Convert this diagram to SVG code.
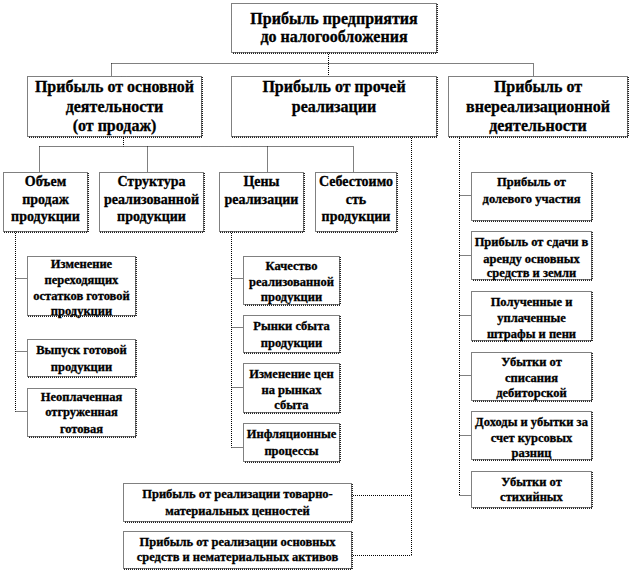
<svg xmlns="http://www.w3.org/2000/svg" width="630" height="570" viewBox="0 0 630 570">
<style>
.bx{fill:#fff;stroke:#000;stroke-width:1;stroke-dasharray:1 1}
.sh{fill:none;stroke:#222;stroke-width:2;stroke-dasharray:1 1}
.c{fill:none;stroke:#000;stroke-width:1;stroke-dasharray:1 1}
</style>
<rect width="630" height="570" fill="#fff"/>
<g id="connectors">
<path class="c" d="M328.5 52V76M111.5 63.5H533.5M111.5 63.5V76M533.5 63.5V76"/>
<path class="c" d="M123.5 136V146.5M39.5 146.5H353.5M39.5 146.5V172M147.5 146.5V172M267.5 146.5V172M353.5 146.5V172"/>
<path class="c" d="M411.5 136V555.5M351 495.5H411.5M351 555.5H411.5"/>
<path class="c" d="M459.5 136V495.5M459.5 195.5H471M459.5 255.5H471M459.5 315.5H471M459.5 375.5H471M459.5 435.5H471M459.5 495.5H471"/>
<path class="c" d="M15.5 231V411.5M15.5 278.5H27M15.5 351.5H27M15.5 411.5H27"/>
<path class="c" d="M231.5 231V447.5M231.5 278.5H243M231.5 327.5H243M231.5 387.5H243M231.5 447.5H243"/>
</g>
<g font-family="Liberation Serif, serif" font-weight="bold" text-anchor="middle" fill="#000" stroke="#000" stroke-width="0.3">
<g id="n0" font-size="16"><path class="sh" d="M437 4V53H232"/><rect class="bx" x="231.5" y="3.5" width="205" height="49"/><text x="334" y="24">Прибыль предприятия</text><text x="334" y="42">до налогообложения</text></g>
<g id="n1" font-size="16"><path class="sh" d="M202 77V137H28"/><rect class="bx" x="27.5" y="76.5" width="174" height="60"/><text x="114.5" y="92">Прибыль от основной</text><text x="114.5" y="111.5">деятельности</text><text x="114.5" y="131">(от продаж)</text></g>
<g id="n2" font-size="16"><path class="sh" d="M437 77V137H232"/><rect class="bx" x="231.5" y="76.5" width="205" height="60"/><text x="334" y="92">Прибыль от прочей</text><text x="334" y="111.5">реализации</text></g>
<g id="n3" font-size="16"><path class="sh" d="M628 77V137H449"/><rect class="bx" x="448.5" y="76.5" width="179" height="60"/><text x="538" y="92">Прибыль от</text><text x="538" y="111.5">внереализационной</text><text x="538" y="131">деятельности</text></g>
<g id="n4" font-size="14"><path class="sh" d="M88 173V232H4"/><rect class="bx" x="3.5" y="172.5" width="84" height="59"/><text x="45.5" y="185.5">Объем</text><text x="45.5" y="204">продаж</text><text x="45.5" y="221">продукции</text></g>
<g id="n5" font-size="14"><path class="sh" d="M204 173V232H100"/><rect class="bx" x="99.5" y="172.5" width="104" height="59"/><text x="151.5" y="185.5">Структура</text><text x="151.5" y="204">реализованной</text><text x="151.5" y="221">продукции</text></g>
<g id="n6" font-size="14"><path class="sh" d="M304 173V232H220"/><rect class="bx" x="219.5" y="172.5" width="84" height="59"/><text x="261.5" y="185.5">Цены</text><text x="261.5" y="204">реализации</text></g>
<g id="n7" font-size="14"><path class="sh" d="M397 173V232H316"/><rect class="bx" x="315.5" y="172.5" width="81" height="59"/><text x="356" y="185.5">Себестоимо</text><text x="356" y="204">сть</text><text x="356" y="221">продукции</text></g>
<g id="n8" font-size="12.5"><path class="sh" d="M136 257V316H28"/><rect class="bx" x="27.5" y="256.5" width="108" height="59"/><text x="81.5" y="267.5">Изменение</text><text x="81.5" y="283.5">переходящих</text><text x="81.5" y="299.5">остатков готовой</text><text x="81.5" y="315">продукции</text></g>
<g id="n9" font-size="12.5"><path class="sh" d="M136 340V377H28"/><rect class="bx" x="27.5" y="339.5" width="108" height="37"/><text x="81.5" y="354">Выпуск готовой</text><text x="81.5" y="370.5">продукции</text></g>
<g id="n10" font-size="12.5"><path class="sh" d="M136 389V437H28"/><rect class="bx" x="27.5" y="388.5" width="108" height="48"/><text x="81.5" y="401">Неоплаченная</text><text x="81.5" y="416">отгруженная</text><text x="81.5" y="432.5">готовая</text></g>
<g id="n11" font-size="12.5"><path class="sh" d="M340 257V305H244"/><rect class="bx" x="243.5" y="256.5" width="96" height="48"/><text x="291.5" y="269.5">Качество</text><text x="291.5" y="285.5">реализованной</text><text x="291.5" y="301">продукции</text></g>
<g id="n12" font-size="12.5"><path class="sh" d="M340 316V353H244"/><rect class="bx" x="243.5" y="315.5" width="96" height="37"/><text x="291.5" y="329.5">Рынки сбыта</text><text x="291.5" y="347">продукции</text></g>
<g id="n13" font-size="12.5"><path class="sh" d="M340 364V413H244"/><rect class="bx" x="243.5" y="363.5" width="96" height="49"/><text x="291.5" y="377.5">Изменение цен</text><text x="291.5" y="393.5">на рынках</text><text x="291.5" y="408.5">сбыта</text></g>
<g id="n14" font-size="12.5"><path class="sh" d="M340 424V462H244"/><rect class="bx" x="243.5" y="423.5" width="96" height="38"/><text x="291.5" y="437.5">Инфляционные</text><text x="291.5" y="454.5">процессы</text></g>
<g id="n15" font-size="12.5"><path class="sh" d="M592 173V221H472"/><rect class="bx" x="471.5" y="172.5" width="120" height="48"/><text x="531.5" y="186">Прибыль от</text><text x="531.5" y="202.5">долевого участия</text></g>
<g id="n16" font-size="12.5"><path class="sh" d="M592 232V280H472"/><rect class="bx" x="471.5" y="231.5" width="120" height="48"/><text x="531.5" y="245.5">Прибыль от сдачи в</text><text x="531.5" y="262.5">аренду основных</text><text x="531.5" y="277">средств и земли</text></g>
<g id="n17" font-size="12.5"><path class="sh" d="M592 292V341H472"/><rect class="bx" x="471.5" y="291.5" width="120" height="49"/><text x="531.5" y="306">Полученные и</text><text x="531.5" y="321.5">уплаченные</text><text x="531.5" y="337.5">штрафы и пени</text></g>
<g id="n18" font-size="12.5"><path class="sh" d="M592 353V401H472"/><rect class="bx" x="471.5" y="352.5" width="120" height="48"/><text x="531.5" y="366">Убытки от</text><text x="531.5" y="381.5">списания</text><text x="531.5" y="397">дебиторской</text></g>
<g id="n19" font-size="12.5"><path class="sh" d="M592 412V460H472"/><rect class="bx" x="471.5" y="411.5" width="120" height="48"/><text x="531.5" y="425.5">Доходы и убытки за</text><text x="531.5" y="441.5">счет курсовых</text><text x="531.5" y="457">разниц</text></g>
<g id="n20" font-size="12.5"><path class="sh" d="M592 472V508H472"/><rect class="bx" x="471.5" y="471.5" width="120" height="36"/><text x="531.5" y="486">Убытки от</text><text x="531.5" y="501">стихийных</text></g>
<g id="n21" font-size="12.5"><path class="sh" d="M352 484V522H124"/><rect class="bx" x="123.5" y="483.5" width="228" height="38"/><text x="237.5" y="497.5">Прибыль от реализации товарно-</text><text x="237.5" y="515">материальных ценностей</text></g>
<g id="n22" font-size="12.5"><path class="sh" d="M352 532V569H124"/><rect class="bx" x="123.5" y="531.5" width="228" height="37"/><text x="237.5" y="546">Прибыль от реализации основных</text><text x="237.5" y="561">средств и нематериальных активов</text></g>
</g>
</svg>
